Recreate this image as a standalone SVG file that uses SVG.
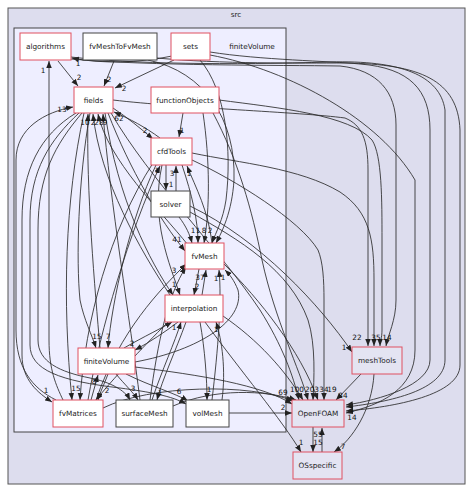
<svg xmlns="http://www.w3.org/2000/svg" width="474" height="493" viewBox="0 0 474 493">
<defs>
<marker id="ah" markerUnits="userSpaceOnUse" markerWidth="8" markerHeight="6" refX="7" refY="2.75" orient="auto">
<path d="M0,0 L7,2.75 L0,5.5 z" fill="#222"/>
</marker>
<style>
.cl{font-family:"DejaVu Sans",sans-serif;font-size:7.3px;fill:#222;text-anchor:middle}
.nt{font-family:"DejaVu Sans",sans-serif;font-size:7.3px;fill:#222;text-anchor:middle}
.el{font-family:"DejaVu Sans",sans-serif;font-size:7.3px;fill:#111;text-anchor:middle}
.in{fill:#ffffff;stroke:#e05060;stroke-width:1}
.ing{fill:#ffffff;stroke:#444;stroke-width:1}
.out{fill:#e4e4f2;stroke:#e05060;stroke-width:1}
#edges path{fill:none;stroke:#2a2a2a;stroke-width:0.85;marker-end:url(#ah)}
</style>
</defs>
<rect x="0" y="0" width="474" height="493" fill="#ffffff"/>
<g id="cluster-src">
<rect x="8" y="8" width="457" height="476" fill="#ddddee" stroke="#555" stroke-width="1"/>
<text class="cl" x="236" y="17">src</text>
</g>
<g id="cluster-finiteVolume">
<rect x="14" y="28" width="272" height="404" fill="#eeeeff" stroke="#444" stroke-width="1"/>
<text class="cl" x="252" y="49">finiteVolume</text>
</g>
<g id="edges">
<path d="M58,61 L78,86"/>
<path d="M114,61 L104,86"/>
<path d="M174,60 L115,88"/>
<path d="M172,56 C140,63 100,64 72,58"/>
<path d="M63,400 C56,385 49,370 49,340 L49,61"/>
<path d="M183,113 L179,137"/>
<path d="M113,108 C128,118 140,128 153,139"/>
<path d="M160,138 C145,127 130,119 114,112"/>
<path d="M56,400 C32,388 16,368 16,330 L16,160 C16,128 45,112 73,107"/>
<path d="M76,113 C40,135 22,170 22,220 L22,355 C22,380 38,393 52,402"/>
<path d="M79,113 C50,140 30,170 30,220 L30,345 C30,370 60,381 120,388 C150,392 172,396 186,404"/>
<path d="M82,113 C55,145 38,175 38,230 L38,340 C38,362 60,372 90,378 C110,382 125,390 130,400"/>
<path d="M100,348 C95,290 86,190 88,114"/>
<path d="M170,295 C140,250 100,180 93,114"/>
<path d="M188,245 C160,210 108,160 98,114"/>
<path d="M140,400 C130,320 110,200 103,114"/>
<path d="M108,113 C130,170 160,220 185,251"/>
<path d="M105,113 C118,200 150,262 173,295"/>
<path d="M84,113 C65,200 62,300 72,400"/>
<path d="M90,113 C78,180 76,260 80,300 C84,320 92,335 96,348"/>
<path d="M111,113 C150,180 220,250 260,310 C282,345 293,375 299,400"/>
<path d="M166,165 L166,190"/>
<path d="M176,191 L176,166"/>
<path d="M88,400 C100,330 130,230 160,166"/>
<path d="M212,243 C208,210 196,188 187,166"/>
<path d="M156,165 C130,220 112,300 108,348"/>
<path d="M153,163 C110,230 85,320 80,400"/>
<path d="M182,165 C192,195 198,220 198,243"/>
<path d="M162,165 C150,220 170,265 180,295"/>
<path d="M192,160 C235,180 300,220 318,250 C323,262 324,280 324,300 L324,400"/>
<path d="M192,153 C240,163 300,168 340,192 C370,212 374,240 374,280 L374,346"/>
<path d="M203,113 C210,160 210,210 204,243"/>
<path d="M213,113 C238,160 252,210 262,260 C275,320 300,370 308,400"/>
<path d="M219,100 C280,108 350,115 372,140 C382,155 382,200 382,240 L382,330 C382,338 380,342 380,346"/>
<path d="M179,217 C186,226 190,235 192,243"/>
<path d="M200,60 C226,90 232,150 226,200 C223,220 216,232 212,243"/>
<path d="M148,60 C205,72 236,120 234,180 C232,212 222,232 216,243"/>
<path d="M190,212 C240,240 290,270 308,320 C316,345 314,380 313,400"/>
<path d="M190,206 C260,240 320,305 352,352"/>
<path d="M199,269 L194,295"/>
<path d="M202,295 L206,270"/>
<path d="M224,264 C260,300 300,350 318,400"/>
<path d="M150,400 C158,340 168,295 186,267"/>
<path d="M212,400 C218,350 222,300 219,270"/>
<path d="M135,362 C200,350 245,320 238,290 C234,280 230,275 225,270"/>
<path d="M96,400 C120,330 160,290 186,264"/>
<path d="M113,100 C180,108 300,112 345,118 C362,125 368,140 368,170 L368,346"/>
<path d="M71,57 C130,64 230,65 330,62 C400,60 440,75 445,110 L445,360 C445,390 390,402 346,407"/>
<path d="M157,58 C220,64 300,63 345,63 C420,64 458,80 460,130 L460,365 C460,395 395,407 346,411"/>
<path d="M210,52 C260,60 330,61 360,64 C410,68 430,90 430,130 L430,360 C430,385 380,400 346,405"/>
<path d="M210,55 C290,70 380,120 415,180 L415,350 C415,390 380,405 346,413"/>
<path d="M71,59 C150,66 280,65 340,66 C378,70 396,92 396,125 L396,300 C396,320 388,335 386,346"/>
<path d="M361,374 L336,400"/>
<path d="M374,374 C372,410 352,440 334,452"/>
<path d="M313,427 L313,452"/>
<path d="M322,452 L322,428"/>
<path d="M205,322 C240,370 282,420 301,452"/>
<path d="M135,367 C200,375 262,385 292,404"/>
<path d="M229,413 L292,413"/>
<path d="M103,408 C150,385 250,383 293,401"/>
<path d="M173,406 C215,388 265,390 296,400"/>
<path d="M223,316 C258,340 285,370 303,400"/>
<path d="M124,348 C145,336 162,328 172,322"/>
<path d="M178,322 C165,332 150,342 135,350"/>
<path d="M152,400 C162,370 175,342 181,322"/>
<path d="M222,400 C226,370 222,340 216,322"/>
<path d="M200,322 C205,350 207,380 207,400"/>
<path d="M186,322 C176,350 162,380 157,400"/>
<path d="M168,322 C140,350 112,380 96,400"/>
<path d="M91,400 L98,375"/>
<path d="M108,374 C104,385 100,392 98,400"/>
<path d="M116,374 C125,385 133,392 138,400"/>
<path d="M126,374 C150,386 175,393 188,401"/>
</g>
<g id="edge-labels">
<text class="el" x="79" y="80">2</text>
<text class="el" x="109" y="82">2</text>
<text class="el" x="124" y="91">2</text>
<text class="el" x="78" y="66">1</text>
<text class="el" x="43" y="73">1</text>
<text class="el" x="182" y="133">1</text>
<text class="el" x="145" y="133">2</text>
<text class="el" x="119" y="121">62</text>
<text class="el" x="62" y="112">13</text>
<text class="el" x="46" y="393">1</text>
<text class="el" x="179" y="394">6</text>
<text class="el" x="85" y="125">10</text>
<text class="el" x="93" y="125">2</text>
<text class="el" x="99" y="125">28</text>
<text class="el" x="105" y="125">9</text>
<text class="el" x="177" y="242">41</text>
<text class="el" x="174" y="287">1</text>
<text class="el" x="76" y="391">15</text>
<text class="el" x="97" y="339">15</text>
<text class="el" x="297" y="392">100</text>
<text class="el" x="171" y="187">1</text>
<text class="el" x="172" y="176">3</text>
<text class="el" x="157" y="173">1</text>
<text class="el" x="189" y="176">1</text>
<text class="el" x="108" y="339">7</text>
<text class="el" x="198" y="233">1</text>
<text class="el" x="332" y="392">19</text>
<text class="el" x="204" y="233">8</text>
<text class="el" x="376" y="340">35</text>
<text class="el" x="387" y="340">14</text>
<text class="el" x="193" y="233">1</text>
<text class="el" x="210" y="233">2</text>
<text class="el" x="312" y="392">203</text>
<text class="el" x="344" y="350">1</text>
<text class="el" x="197" y="289">2</text>
<text class="el" x="200" y="280">37</text>
<text class="el" x="324" y="392">34</text>
<text class="el" x="174" y="273">3</text>
<text class="el" x="216" y="281">1</text>
<text class="el" x="223" y="280">1</text>
<text class="el" x="357" y="340">22</text>
<text class="el" x="352" y="412">1</text>
<text class="el" x="352" y="420">14</text>
<text class="el" x="343" y="398">84</text>
<text class="el" x="343" y="449">7</text>
<text class="el" x="318" y="445">15</text>
<text class="el" x="318" y="437">55</text>
<text class="el" x="301" y="445">1</text>
<text class="el" x="283" y="395">69</text>
<text class="el" x="283" y="410">2</text>
<text class="el" x="174" y="330">1</text>
<text class="el" x="132" y="346">2</text>
<text class="el" x="216" y="332">1</text>
<text class="el" x="209" y="392">1</text>
<text class="el" x="160" y="395">1</text>
<text class="el" x="94" y="384">8</text>
<text class="el" x="107" y="393">2</text>
<text class="el" x="133" y="391">3</text>
</g>
<g id="node-algorithms"><rect class="in" x="20" y="33" width="51" height="27"/><text class="nt" x="45.5" y="49">algorithms</text></g>
<g id="node-fvMeshToFvMesh"><rect class="ing" x="83" y="33" width="74" height="27"/><text class="nt" x="120" y="49">fvMeshToFvMesh</text></g>
<g id="node-sets"><rect class="in" x="171" y="33" width="39" height="27"/><text class="nt" x="190.5" y="49">sets</text></g>
<g id="node-fields"><rect class="in" x="74" y="87" width="39" height="26"/><text class="nt" x="93.5" y="102.5">fields</text></g>
<g id="node-functionObjects"><rect class="in" x="151" y="87" width="68" height="26"/><text class="nt" x="185" y="102.5">functionObjects</text></g>
<g id="node-cfdTools"><rect class="in" x="151" y="138" width="41" height="27"/><text class="nt" x="171.5" y="154">cfdTools</text></g>
<g id="node-solver"><rect class="ing" x="151" y="191" width="39" height="26"/><text class="nt" x="170.5" y="206.5">solver</text></g>
<g id="node-fvMesh"><rect class="in" x="185" y="243" width="39" height="26"/><text class="nt" x="204.5" y="258.5">fvMesh</text></g>
<g id="node-interpolation"><rect class="in" x="165" y="295" width="58" height="27"/><text class="nt" x="194" y="311">interpolation</text></g>
<g id="node-finiteVolume"><rect class="in" x="78" y="348" width="57" height="26"/><text class="nt" x="106.5" y="363.5">finiteVolume</text></g>
<g id="node-fvMatrices"><rect class="in" x="53" y="400" width="50" height="27"/><text class="nt" x="78" y="416">fvMatrices</text></g>
<g id="node-surfaceMesh"><rect class="ing" x="116" y="400" width="57" height="27"/><text class="nt" x="144.5" y="416">surfaceMesh</text></g>
<g id="node-volMesh"><rect class="ing" x="186" y="400" width="43" height="27"/><text class="nt" x="207.5" y="416">volMesh</text></g>
<g id="node-meshTools"><rect class="out" x="352" y="347" width="50" height="27"/><text class="nt" x="377" y="363">meshTools</text></g>
<g id="node-OpenFOAM"><rect class="out" x="292" y="400" width="52" height="27"/><text class="nt" x="318" y="416">OpenFOAM</text></g>
<g id="node-OSspecific"><rect class="out" x="293" y="452" width="49" height="27"/><text class="nt" x="317.5" y="468">OSspecific</text></g>
</svg>
